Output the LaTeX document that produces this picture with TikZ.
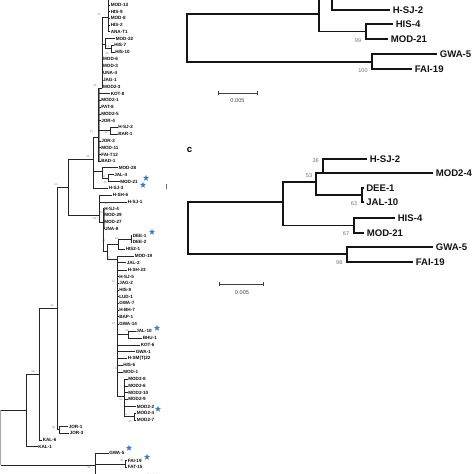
\documentclass[tikz,border=0pt]{standalone}
\usepackage{fontspec}
\setmainfont{Liberation Sans}
\usetikzlibrary{shapes.geometric}
\definecolor{starblue}{RGB}{62,124,190}
\tikzset{
  lt/.style={line width=0.65pt, draw=black!85},
  lf/.style={anchor=west, inner sep=0pt, inner xsep=0.6pt, font=\fontsize{4.6}{5}\selectfont\bfseries, text=black!95},
  bs/.style={font=\fontsize{2.6}{3}\selectfont, text=black!55, inner sep=0pt},
  bt/.style={line width=1.15pt, draw=black!92},
  bl/.style={anchor=west, inner sep=0pt, inner xsep=2.6pt, font=\fontsize{9.6}{10}\selectfont\bfseries, text=black!92},
  bb/.style={font=\fontsize{5.5}{6}\selectfont, text=black!55, inner sep=0pt},
  sbar/.style={line width=0.8pt, draw=black!75},
  sblab/.style={font=\fontsize{5.6}{6}\selectfont, text=black!70, inner sep=0pt},
  plab/.style={font=\fontsize{9.6}{10}\selectfont\bfseries, inner sep=0pt},
  stt/.style={star, star points=5, star point ratio=2.4, fill=starblue, draw=none, minimum size=6.4pt, inner sep=0pt},
  band/.style={line width=1.4pt, draw=black!45},
}
\newcommand\lv[5]{\node[lf] (#2) at (#3,#4) {#5}; \draw[lt] (#1) |- (#2.west);}
\newcommand\bv[5]{\node[bl] (#2) at (#3,#4) {#5}; \draw[bt] (#1) |- (#2.west);}
\newcommand\brl[2]{\draw[lt] (#1) |- (#2);}
\newcommand\brb[2]{\draw[bt] (#1) |- (#2);}
\newcommand\bsl[4]{\node[bs] (#1) at (#2,#3) {#4};}
\newcommand\stl[3]{\node[stt] (#1) at (#2,#3) {};}
\begin{document}
\begin{tikzpicture}[x=1pt,y=-1pt]
\useasboundingbox (0,0) rectangle (474,474);
\fill[white] (0,0) rectangle (474,474);
% ---------------- left tree ----------------
\coordinate (S1) at (108,17);
\coordinate (S1t) at (108,-3);
\coordinate (S2) at (105,44);
\coordinate (S3) at (111,48.8);
\coordinate (N1) at (102,88);
\coordinate (N2) at (98.5,137);
\coordinate (HB) at (110,130.7);
\coordinate (N3) at (93.3,159);
\coordinate (N4) at (102.7,171);
\coordinate (N5) at (108,178.2);
\coordinate (A) at (68,187);
\coordinate (C) at (99,215);
\coordinate (C2) at (103,222);
\coordinate (E) at (107,251.7);
\coordinate (F) at (118,244);
\coordinate (G) at (131,239);
\coordinate (D) at (117,259.3);
\coordinate (H) at (128,334.6);
\coordinate (M) at (124.3,396);
\coordinate (M2) at (134.5,416.7);
\coordinate (J) at (59,429.8);
\coordinate (K) at (57,308);
\coordinate (L) at (39,374);
\coordinate (Q) at (26,410);
\coordinate (R) at (0.6,437);
\coordinate (P) at (95,465);
\coordinate (Pb) at (95,480);
\coordinate (T) at (125,464);
% bands
\coordinate (bd1) at (99.6,88); \coordinate (bd2) at (99.6,161.3);
\draw[band] (bd1) -- (bd2);
\coordinate (bd3) at (104.2,208.7); \coordinate (bd4) at (104.2,229);
\draw[band] (bd3) -- (bd4);
% root
\draw[lt,draw=black!35] (R |- Q) -- (R |- P);
\draw[lt] (R |- Q) -- (Q);
\draw[lt] (R |- P) -- (P);
\brl{Q}{L} \lv{Q}{kal1}{37.5}{446.7}{KAL-1}
\brl{L}{K} \lv{L}{kal6}{42}{440}{KAL-6}
\brl{K}{A} \brl{K}{J}
\lv{J}{jor1}{68}{426.7}{JOR-1} \lv{J}{jor3}{69}{433}{JOR-3}
\brl{A}{N3} \brl{A}{C}
\brl{N3}{N2} \brl{N3}{N4} \lv{N3}{hsj3}{108}{188.3}{H-SJ-3}
\brl{N4}{N5} \lv{N4}{mod28}{118}{167.7}{MOD-28}
\lv{N5}{jal4}{113.5}{174.7}{JAL-4} \lv{N5}{mod21}{119.5}{181.7}{MOD-21}
\brl{N2}{N1} \brl{N2}{HB}
\lv{N2}{kot8}{110}{93.7}{KOT-8}
\lv{N2}{mod21x}{100.5}{100.3}{MOD2-1}
\lv{N2}{pat8}{100.5}{107}{PAT-8}
\lv{N2}{mod25}{100.5}{114}{MOD2-5}
\lv{N2}{jor4}{100.5}{120.7}{JOR-4}
\lv{N2}{jor2}{100.5}{141}{JOR-2}
\lv{N2}{mod11}{100.5}{147.7}{MOD-11}
\lv{N2}{fait12}{100.5}{154.7}{FAI-T12}
\lv{N2}{bad1}{100.5}{161.3}{BAD-1}
\lv{HB}{hsj2}{117.5}{127.3}{H-SJ-2} \lv{HB}{bar1}{117.5}{134}{BAR-1}
\brl{N1}{S1} \brl{N1}{S2}
\lv{N1}{mod6}{102.3}{59}{MOD-6}
\lv{N1}{mod3}{102.3}{66}{MOD-3}
\lv{N1}{una4}{102.3}{72.7}{UNA-4}
\lv{N1}{jag1}{102.3}{79.7}{JAG-1}
\lv{N1}{mod23}{102.3}{86.7}{MOD2-3}
\draw[lt] (S1) -- (S1t);
\lv{S1}{mod13}{110}{5}{MOD-13}
\lv{S1}{his9}{110}{11.7}{HIS-9}
\lv{S1}{mod8}{110}{18.3}{MOD-8}
\lv{S1}{his2}{110}{25}{HIS-2}
\lv{S1}{anat1}{110}{31.7}{ANA-T1}
\brl{S2}{S3} \lv{S2}{mod22}{115}{38.7}{MOD-22}
\lv{S3}{his7}{113.5}{45.3}{HIS-7} \lv{S3}{his10}{114.5}{52.3}{HIS-10}
\brl{C}{C2} \lv{C}{hsh6}{112}{195.3}{H-SH-6} \lv{C}{hsj1}{127}{202}{H-SJ-1}
\brl{C2}{E}
\lv{C2}{hsj4}{103.5}{208.7}{H-SJ-4}
\lv{C2}{mod29}{103.5}{215.3}{MOD-29}
\lv{C2}{mod27}{103.5}{222}{MOD-27}
\lv{C2}{una8}{103.5}{229}{UNA-8}
\brl{E}{F} \brl{E}{D}
\brl{F}{G} \lv{F}{his21}{125}{249.3}{HIS2-1}
\lv{G}{dee1}{132}{235.7}{DEE-1} \lv{G}{dee2}{132}{242.3}{DEE-2}
\lv{D}{mod19}{134}{256}{MOD-19}
\lv{D}{jal2}{126}{262.7}{JAL-2}
\lv{D}{hsh23}{127}{270}{H-SH-23}
\lv{D}{hsj5}{118.5}{276.7}{H-SJ-5}
\lv{D}{jag2}{118.5}{283.3}{JAG-2}
\lv{D}{his8}{118.5}{290}{HIS-8}
\lv{D}{lud1}{118.5}{296.7}{LUD-1}
\lv{D}{gwa7}{118.5}{303.3}{GWA-7}
\lv{D}{hbh7}{118.5}{310}{H-BH-7}
\lv{D}{bap1}{118.5}{316.7}{BAP-1}
\lv{D}{gwa14}{118.5}{324}{GWA-14}
\brl{D}{H}
\lv{H}{jal10}{135.5}{331.3}{JAL-10} \lv{H}{bhu1}{142}{338}{BHU-1}
\lv{D}{kot6}{140}{345}{KOT-6}
\lv{D}{gwa1}{135}{351.7}{GWA-1}
\lv{D}{hsmt22}{127}{358.7}{H-SM(T)22}
\lv{D}{his6}{122.5}{365.3}{HIS-6}
\lv{D}{mod1}{122.5}{372.3}{MOD-1}
\brl{D}{M}
\lv{M}{mod28x}{127.5}{379}{MOD2-8}
\lv{M}{mod26}{127.5}{386}{MOD2-6}
\lv{M}{mod210}{127.5}{392.7}{MOD2-10}
\lv{M}{mod29x}{127.5}{399.3}{MOD2-9}
\lv{M}{mod22x}{136}{406.7}{MOD2-2}
\brl{M}{M2}
\lv{M2}{mod24}{136}{413.3}{MOD2-4} \lv{M2}{mod27x}{136}{420}{MOD2-7}
\brl{P}{T} \draw[lt] (P) -- (Pb);
\lv{P}{gwa5}{108.5}{453.3}{GWA-5}
\lv{T}{fai19}{127}{460.7}{FAI-19} \lv{T}{fat15}{127}{467.3}{FAT-15}
\node[lf,text=black!40] (fat11) at (146,475.5) {FAI-11};
% node support values (left tree)
\bsl{v1}{99}{15}{65} \bsl{v2}{107.5}{47}{61} \bsl{v3}{107}{53.5}{56}
\bsl{v4}{95}{86}{45} \bsl{v5}{91.5}{132}{47} \bsl{v6}{88}{157}{46}
\bsl{v7}{56}{184.5}{53} \bsl{v8}{94.5}{219}{58} \bsl{v9}{101}{213}{36}
\bsl{v10}{106}{203.5}{15} \bsl{v11}{104}{176.5}{51} \bsl{v12}{105}{182.5}{47}
\bsl{v13}{103.5}{241}{48} \bsl{v14}{116.5}{238.5}{64} \bsl{v15}{108}{258}{38}
\bsl{v16}{113.5}{282}{12} \bsl{v17}{113.5}{324}{13} \bsl{v18}{127}{331}{64}
\bsl{v19}{116}{369}{10} \bsl{v20}{121}{399.5}{64} \bsl{v21}{125.5}{415}{63}
\bsl{v22}{130}{421.5}{65} \bsl{v23}{53.5}{427.5}{99} \bsl{v24}{52}{306}{95}
\bsl{v25}{33}{372}{58} \bsl{v26}{122}{461}{64} \bsl{v27}{89}{468}{99}
\bsl{v28}{106}{133}{34}
% stars
\stl{s1}{146}{178} \stl{s2}{143}{185} \stl{s3}{152}{232} \stl{s4}{157}{328}
\stl{s5}{158}{409} \stl{s6}{129}{448} \stl{s7}{147}{457}
% small tick
\coordinate (tk1) at (166,183.5); \coordinate (tk2) at (166,188.5);
\draw[line width=0.6pt, draw=black!55] (tk1) -- (tk2);
% ---------------- panel b (top right) ----------------
\coordinate (rb) at (187,38);
\coordinate (b1) at (319,14);
\coordinate (b0) at (332,-4);
\coordinate (b2) at (366,31.5);
\coordinate (b3) at (372,62);
\brb{rb}{b1} \brb{rb}{b3} \brb{b1}{b0} \brb{b1}{b2}
\bv{b0}{hsj2b}{390}{10}{H-SJ-2}
\bv{b2}{his4b}{393}{24}{HIS-4}
\bv{b2}{mod21b}{388}{39}{MOD-21}
\bv{b3}{gwa5b}{437}{54}{GWA-5}
\bv{b3}{fai19b}{412}{69}{FAI-19}
\node[bb] (bb1) at (358,40.5) {99};
\node[bb] (bb2) at (363,70.5) {100};
\coordinate (sb1) at (218,93); \coordinate (sb2) at (257,93);
\draw[sbar] (sb1) -- (sb2);
\draw[sbar] ([yshift=-2pt]sb1) -- ([yshift=2pt]sb1);
\draw[sbar] ([yshift=-2pt]sb2) -- ([yshift=2pt]sb2);
\node[sblab] (sbl1) at (237.5,100.5) {0.005};
% ---------------- panel c ----------------
\node[plab] (clab) at (189.5,149.5) {c};
\coordinate (rc) at (188,228);
\coordinate (c1) at (283,202);
\coordinate (c2) at (316,182);
\coordinate (c4) at (323,173);
\coordinate (c5) at (362,195);
\coordinate (c3) at (354,225.5);
\coordinate (c6) at (347,254);
\brb{rc}{c1} \brb{rc}{c6} \brb{c1}{c2} \brb{c1}{c3} \brb{c2}{c4} \brb{c2}{c5}
\bv{c4}{hsj2c}{367}{159}{H-SJ-2}
\bv{c4}{mod24c}{433}{173}{MOD2-4}
\bv{c5}{dee1c}{363.5}{188}{DEE-1}
\bv{c5}{jal10c}{363.5}{202}{JAL-10}
\bv{c3}{his4c}{395}{218}{HIS-4}
\bv{c3}{mod21c}{364}{233}{MOD-21}
\bv{c6}{gwa5c}{433}{247}{GWA-5}
\bv{c6}{fai19c}{413}{262}{FAI-19}
\node[bb] (cb1) at (315.7,160.7) {36};
\node[bb] (cb2) at (309,175.7) {53};
\node[bb] (cb3) at (354,203.3) {63};
\node[bb] (cb4) at (346,233.3) {67};
\node[bb] (cb5) at (339.3,262.7) {98};
\coordinate (sc1) at (219,284); \coordinate (sc2) at (263,284);
\draw[sbar] (sc1) -- (sc2);
\draw[sbar] ([yshift=-2pt]sc1) -- ([yshift=2pt]sc1);
\draw[sbar] ([yshift=-2pt]sc2) -- ([yshift=2pt]sc2);
\node[sblab] (scl1) at (242,293) {0.005};
\end{tikzpicture}
\end{document}
